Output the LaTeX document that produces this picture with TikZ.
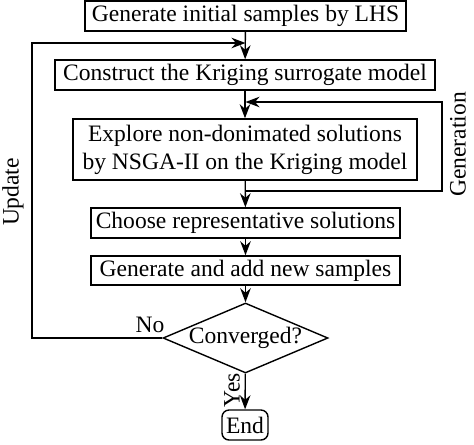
\documentclass[tikz,border=0pt]{standalone}
\usepackage{fontspec}
\setmainfont{Liberation Serif}
\usetikzlibrary{shapes.geometric,arrows.meta}

\begin{document}
\begin{tikzpicture}[x=0.02cm,y=-0.02cm,
	stepbox/.style={draw,thick,inner sep=0pt,minimum height=0.6cm,align=center,font=\fontsize{13.4}{16}\selectfont},
	decide/.style={draw,thick,diamond,aspect=2.36,inner sep=0pt,minimum width=3.3cm,minimum height=1.4cm,font=\fontsize{13.4}{16}\selectfont},
	flow/.style={-{Stealth[length=8pt,width=6pt]},thick},
	side/.style={font=\fontsize{13.4}{16}\selectfont}]
	\useasboundingbox (0,0) rectangle (474,444);
	\node[stepbox,minimum width=6.42cm] (init) at (245.5,16) {Generate initial samples by LHS};
	\node[stepbox,minimum width=7.6cm] (krig) at (245,75) {Construct the Kriging surrogate model};
	\node[stepbox,minimum width=6.88cm,minimum height=1.22cm] (nsga) at (245,149.5) {Explore non-donimated solutions\\by NSGA-II on the Kriging model};
	\node[stepbox,minimum width=6.18cm] (choose) at (245.5,223) {Choose representative solutions};
	\node[stepbox,minimum width=6.18cm,minimum height=0.58cm] (add) at (245.5,270.5) {Generate and add new samples};
	\node[decide] (conv) at (245.5,338) {Converged?};
	\node[stepbox,rounded corners=4pt,minimum width=0.92cm] (end) at (245,425) {End};
	\coordinate (upin) at (245.5,43);
	\coordinate (genin) at (245.5,102);
	\coordinate (genout) at (245.5,191);
	\draw[flow] (init) -- (krig);
	\draw[flow] (krig) -- (nsga);
	\draw[flow] (nsga) -- (choose);
	\draw[flow] (choose) -- (add);
	\draw[flow] (add) -- (conv);
	\draw[flow] (conv) -- (end);
	\draw[flow] (genout) -- (442,191) -- (442,102) -- (genin);
	\draw[flow] (conv.west) -- (32,338) -- (32,43) -- (upin);
	\node[side,rotate=90] (gen) at (458,144.5) {Generation};
	\node[side,rotate=90] (upd) at (13,192) {Update};
	\node[side] (no) at (150,325) {No};
	\node[side,rotate=90] (yes) at (232,390) {Yes};
\end{tikzpicture}
\end{document}
